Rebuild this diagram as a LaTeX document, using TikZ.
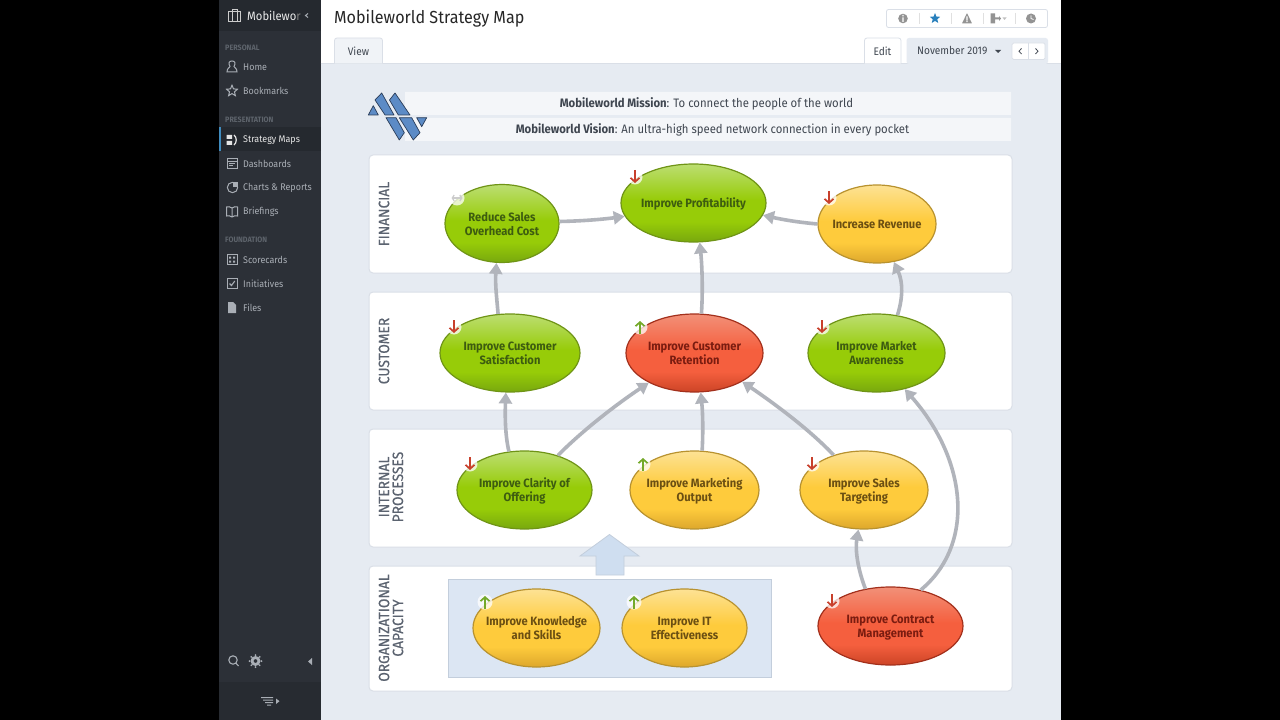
\documentclass[tikz,border=0pt]{standalone}
\usepackage{fontspec}
\setmainfont[FakeStretch=.925]{Fira Sans}
\newfontfamily\labfont[FakeStretch=.925,FakeBold=.3]{Fira Sans}
\usetikzlibrary{shapes.geometric,arrows.meta,shapes.symbols}
\definecolor{pagebg}{HTML}{E6EBF2}
\definecolor{sidebg}{HTML}{2C3037}
\definecolor{sidedark}{HTML}{25292F}
\definecolor{sidetxt}{HTML}{A9AEB5}
\definecolor{sidehead}{HTML}{5E646C}
\definecolor{connc}{HTML}{B1B4BB}
\definecolor{panelline}{HTML}{DADFE7}
\definecolor{labelc}{HTML}{5B6370}
\definecolor{bargrey}{HTML}{F4F6F9}
\definecolor{txtdark}{HTML}{3F4650}
\definecolor{bluebox}{HTML}{DCE6F3}
\definecolor{blueline}{HTML}{C3CEDC}
\definecolor{arrowblue}{HTML}{CFDEF0}
\definecolor{logoblue}{HTML}{5C8BC6}
\definecolor{logoline}{HTML}{2A3C58}
\definecolor{downred}{HTML}{C8402C}
\definecolor{upgreen}{HTML}{74A92A}
\definecolor{gtop}{HTML}{BCDE72}\definecolor{gmid}{HTML}{97CC08}\definecolor{gbot}{HTML}{78A80E}\definecolor{gline}{HTML}{6F9416}\definecolor{gtxt}{HTML}{3D5C10}
\definecolor{otop}{HTML}{FDE294}\definecolor{omid}{HTML}{FECB3C}\definecolor{obot}{HTML}{DDA72C}\definecolor{oline}{HTML}{B8922F}\definecolor{otxt}{HTML}{6B4F12}
\definecolor{rtop}{HTML}{F29078}\definecolor{rmid}{HTML}{F55F3E}\definecolor{rbot}{HTML}{CC4426}\definecolor{rline}{HTML}{A3301C}\definecolor{rtxt}{HTML}{7A1C10}
\pgfdeclareverticalshading{gshade}{100bp}{color(0bp)=(gbot);color(25bp)=(gbot);color(38bp)=(gmid);color(52bp)=(gmid);color(75bp)=(gtop);color(100bp)=(gtop)}
\pgfdeclareverticalshading{oshade}{100bp}{color(0bp)=(obot);color(25bp)=(obot);color(38bp)=(omid);color(52bp)=(omid);color(75bp)=(otop);color(100bp)=(otop)}
\pgfdeclareverticalshading{rshade}{100bp}{color(0bp)=(rbot);color(25bp)=(rbot);color(38bp)=(rmid);color(52bp)=(rmid);color(75bp)=(rtop);color(100bp)=(rtop)}
\tikzset{
 x=1bp,y=-1bp,
 objbase/.style={ellipse,inner ysep=0pt,inner xsep=-35bp,line width=1.2bp,align=center,minimum height=78bp,font=\fontsize{12.1}{14}\selectfont\bfseries,execute at begin node={\rule{0pt}{12.5bp}},execute at end node={\vphantom{Ag}}},
 gobj/.style={objbase,draw=gline,shading=gshade,text=gtxt},
 oobj/.style={objbase,draw=oline,shading=oshade,text=otxt},
 robj/.style={objbase,draw=rline,shading=rshade,text=rtxt},
 conn/.style={draw=connc,line width=3.6bp,-{Triangle[length=11bp,width=13bp]}},
 panelbox/.style={fill=white,draw=panelline,line width=1bp,rounded corners=4bp},
 panellabel/.style={rotate=90,text=labelc,align=center,font=\labfont\fontsize{15}{14}\selectfont,inner sep=0pt},
 sideitem/.style={anchor=west,text=sidetxt,inner sep=0pt,font=\fontsize{9.7}{11}\selectfont},
 sidehd/.style={anchor=west,text=sidehead,inner sep=0pt,font=\fontsize{7.8}{9}\selectfont\bfseries},
 sideicon/.style={draw=sidetxt,line width=1bp},
 bartext/.style={text=txtdark,inner sep=0pt,font=\fontsize{12.3}{14}\selectfont},
 headtext/.style={text=txtdark,inner sep=0pt,font=\fontsize{11}{12}\selectfont},
 badgedisc/.style={circle,fill=white,fill opacity=.75,minimum size=15bp,inner sep=0pt},
 downarr/.style={draw=downred,line width=1.7bp,-{Straight Barb[length=4bp,width=9bp]}},
 uparr/.style={draw=upgreen,line width=1.7bp,-{Straight Barb[length=4bp,width=9bp]}},
 seplin/.style={draw=black!12,line width=.8bp},
}
\newcommand{\badgedown}[3]{\node[badgedisc] (#1) at (#2,#3) {};\draw[downarr] (#2,#3-7) -- (#2,#3+6);}
\newcommand{\badgeup}[3]{\node[badgedisc] (#1) at (#2,#3) {};\draw[uparr] (#2,#3+7) -- (#2,#3-6);}
\newcommand{\twolines}[2]{\rule{0pt}{12.5bp}#1\\#2\vphantom{Ag}}
\begin{document}
\begin{tikzpicture}
\useasboundingbox (0,0) rectangle (1280,720);
\fill[black] (0,0) rectangle (1280,720);
% sidebar
\fill[sidebg] (219,0) rectangle (320.5,720);
\fill[sidedark] (219,0) rectangle (320.5,31);
\fill[sidedark] (219,127) rectangle (320.5,151);
\fill[sidedark!70!sidebg] (219,682) rectangle (320.5,720);
\fill[blue!40!cyan!50!gray] (219,127) rectangle (221,151);
% content
\fill[pagebg] (320.5,0) rectangle (1061,720);
\fill[white] (320.5,0) rectangle (1061,63);
\draw[panelline,line width=.8bp] (320.5,63.5) -- (1061,63.5);
% sidebar head
\draw[draw=white!80!black,line width=1bp] (228.5,12) rectangle (240.5,22) (232,12) -- (232,9.5) -- (237,9.5) -- (237,12) (232,12) -- (232,22) (237,12) -- (237,22);
\node[anchor=west,inner sep=0pt,text=white!92!black,font=\fontsize{12.2}{13}\selectfont] (brand) at (247,16) {Mobilewo{\color{gray}r}};
\draw[sidetxt,line width=1bp] (308,13.5) -- (305.5,15.5) -- (308,17.5);
% sidebar text
\node[sidehd] (hpers) at (225,47.5) {PERSONAL};
\node[sideitem] (ihome) at (243,67.3) {Home};
\node[sideitem] (ibook) at (243,91.3) {Bookmarks};
\node[sidehd] (hpres) at (225,119.5) {PRESENTATION};
\node[sideitem,text=white!90!black] (istrat) at (243,139.8) {Strategy Maps};
\node[sideitem] (idash) at (243,163.6) {Dashboards};
\node[sideitem] (ichart) at (243,187.8) {Charts \& Reports};
\node[sideitem] (ibrief) at (243,211.8) {Briefings};
\node[sidehd] (hfound) at (225,239.5) {FOUNDATION};
\node[sideitem] (iscore) at (243,259.6) {Scorecards};
\node[sideitem] (iinit) at (243,283.6) {Initiatives};
\node[sideitem] (ifile) at (243,307.6) {Files};
% sidebar icons
\draw[sideicon] (227,72) .. controls (227,68) and (229.5,68) .. (230,66.5) .. controls (228,63) and (229,61) .. (232,61) .. controls (235,61) and (236,63) .. (234,66.5) .. controls (234.5,68) and (237,68) .. (237,72) -- cycle;
\node[star,star points=5,star point ratio=2.2,sideicon,inner sep=0pt,minimum size=11.5bp] (sstar) at (232,91) {};
\fill[white!90!black] (226.5,135) rectangle (232,139) (226.5,141) rectangle (232,145);
\draw[white!90!black,line width=1.2bp] (234,135) .. controls (237,137) and (237,143) .. (234,145);
\draw[sideicon] (227,158.5) rectangle (237,168.5) (227,161.5) -- (237,161.5) (229,164) -- (235,164) (229,166) -- (233,166);
\draw[sideicon] (232.5,187.5) circle[radius=5.2];
\fill[sidetxt] (232.5,187.5) -- (232.5,182) -- (238,182) -- (238,187.5) -- cycle;
\draw[sideicon] (232,208) .. controls (230,206.5) and (228,206.5) .. (226.5,207) -- (226.5,216) .. controls (228,215.5) and (230,215.5) .. (232,217) .. controls (234,215.5) and (236,215.5) .. (237.5,216) -- (237.5,207) .. controls (236,206.5) and (234,206.5) .. (232,208) -- (232,217);
\draw[sideicon] (227,254.5) rectangle (237,264.5);
\fill[sidetxt] (229,256.5) rectangle (231,258.5) (233,256.5) rectangle (235,258.5) (229,260.5) rectangle (231,262.5) (233,260.5) rectangle (235,262.5);
\draw[sideicon] (227,278.5) rectangle (237,288.5);
\draw[sidetxt,line width=1.1bp] (229.5,283.5) -- (231.5,285.5) -- (234.8,281);
\fill[sidetxt] (228,302) -- (233,302) -- (236,305) -- (236,313) -- (228,313) -- cycle;
% sidebar bottom
\draw[sidetxt,line width=1.1bp] (233,660) circle[radius=4.2] (236,663.2) -- (238.5,666);
\fill[sidetxt,even odd rule] (255.5,661) circle[radius=5] (255.5,661) circle[radius=2];
\foreach \a in {0,45,...,315}{\fill[sidetxt] (255.5,661) ++(\a:6) circle[radius=1];}
\fill[sidetxt] (312,658) -- (312,665) -- (308,661.5) -- cycle;
\fill[sidetxt] (261,697) rectangle (273,698) (263,699.5) rectangle (273,700.5) (265,702) rectangle (273,703) (267,704.5) rectangle (271,705.5);
\fill[sidetxt] (276,698.5) -- (276,704) -- (279.5,701.2) -- cycle;
% header
\node[anchor=west,inner sep=0pt,text=black!85,font=\fontsize{17.5}{20}\selectfont] (title) at (334,18.5) {Mobileworld Strategy Map};
\draw[panelline,fill=white,rounded corners=2bp,line width=.8bp] (886.5,9.5) rectangle (1047.5,27.5);
\fill[gray!85] (903,18.5) circle[radius=4.8];
\fill[white] (902.3,17.5) rectangle (903.7,22) (902.3,15) rectangle (903.7,16.3);
\node[star,star points=5,star point ratio=2.3,fill=cyan!70!blue!85!black,inner sep=0pt,minimum size=11bp] (hstar) at (935,18.5) {};
\fill[gray!85,rounded corners=.5bp] (967,13) -- (972,23.5) -- (962,23.5) -- cycle;
\fill[white] (966.4,16.5) rectangle (967.6,20.5) (966.4,21) rectangle (967.6,22.2);
\fill[gray!85] (990.5,13.5) rectangle (995,23.5) (995,17.5) -- (999,17.5) -- (999,16) -- (1001,18.5) -- (999,21) -- (999,19.5) -- (995,19.5) -- cycle;
\fill[gray!50] (1002.5,17.5) -- (1006.5,17.5) -- (1004.5,20) -- cycle;
\fill[gray!85] (1031,18.5) circle[radius=5];
\draw[white,line width=.8bp] (1031,15.5) -- (1031,18.5) -- (1033.5,19.5);
\draw[seplin] (919,13) -- (919,24) (951,13) -- (951,24) (983,13) -- (983,24) (1015,13) -- (1015,24);
% tabs
\draw[panelline,fill=pagebg!60!white,line width=.8bp,rounded corners=2.5bp] (334.5,63.5) -- (334.5,38) -- (382.5,38) -- (382.5,63.5);
\node[headtext] (tview) at (358.5,51) {View};
\draw[panelline,fill=white,line width=.8bp,rounded corners=2.5bp] (864.5,63.5) -- (864.5,38) -- (901,38) -- (901,63.5);
\node[headtext] (tedit) at (882.5,51) {Edit};
\fill[pagebg,rounded corners=2.5bp] (906.5,64) -- (906.5,38) -- (1048,38) -- (1048,64) -- cycle;
\node[headtext,anchor=west] (tnov) at (917,51) {November 2019};
\fill[txtdark] (995,50) -- (1001,50) -- (998,53) -- cycle;
\draw[panelline,fill=white,rounded corners=1.5bp,line width=.7bp] (1012,43) rectangle (1045,59.5);
\draw[panelline,line width=.7bp] (1028.5,43) -- (1028.5,59.5);
\draw[txtdark,line width=.8bp] (1021.5,48.5) -- (1019,51.2) -- (1021.5,54) (1035.5,48.5) -- (1038,51.2) -- (1035.5,54);
% mission bars
\fill[bargrey] (405,92) rectangle (1011,115) (405,118) rectangle (1011,141);
\node[bartext] (mission) at (706.5,104) {\textbf{Mobileworld Mission}: To connect the people of the world};
\node[bartext] (vision) at (712.5,130) {\textbf{Mobileworld Vision}: An ultra-high speed network connection in every pocket};
% logo
\begin{scope}[fill=logoblue,draw=logoline,line width=.7bp,line join=round]
\filldraw (368.3,115) -- (373.3,105.7) -- (378.3,115) -- cycle;
\filldraw (381.7,93) -- (394,115) -- (385,115) -- (375,100) -- cycle;
\filldraw (395,93) -- (410,115) -- (398.3,115) -- (389.5,100) -- cycle;
\filldraw (386,117.7) -- (396,117.7) -- (404.3,132.7) -- (399.3,140) -- cycle;
\filldraw (399.3,117.7) -- (411.7,117.7) -- (420,132.7) -- (413.3,140) -- cycle;
\filldraw (416.7,117.7) -- (426.7,117.7) -- (421.7,126.7) -- cycle;
\end{scope}
% panels
\draw[panelbox] (369,155) rectangle (1012,273);
\draw[panelbox] (369,292) rectangle (1012,410);
\draw[panelbox] (369,429) rectangle (1012,547);
\draw[panelbox] (369,566) rectangle (1012,691);
\node[panellabel] (lfin) at (384,214) {FINANCIAL};
\node[panellabel] (lcus) at (384,351) {CUSTOMER};
\node[panellabel] (lint) at (391,487) {INTERNAL\\PROCESSES};
\node[panellabel] (lorg) at (391,628) {ORGANIZATIONAL\\CAPACITY};
% group box and block arrow
\draw[fill=bluebox,draw=blueline,line width=1bp] (448,579.5) rectangle (771.5,677);
\draw[fill=arrowblue,draw=blueline,line width=.8bp] (609.5,534.5) -- (639,556) -- (624,556) -- (624,575) -- (596,575) -- (596,556) -- (580,556) -- cycle;
% objectives
\node[gobj,minimum width=114bp] (rsc) at (502,223.5) {\twolines{Reduce Sales}{Overhead Cost}};
\node[gobj,minimum width=145bp] (prof) at (693.5,203) {Improve Profitability};
\node[oobj,minimum width=118bp] (rev) at (877,224) {Increase Revenue};
\node[gobj,minimum width=140bp] (sat) at (510,353) {\twolines{Improve Customer}{Satisfaction}};
\node[robj,minimum width=137bp] (ret) at (694.5,353) {\twolines{Improve Customer}{Retention}};
\node[gobj,minimum width=137bp] (mkt) at (876.5,353) {\twolines{Improve Market}{Awareness}};
\node[gobj,minimum width=135bp] (cla) at (524.5,490) {\twolines{Improve Clarity of}{Offering}};
\node[oobj,minimum width=129bp] (mko) at (694.5,490) {\twolines{Improve Marketing}{Output}};
\node[oobj,minimum width=128bp] (sal) at (864,490) {\twolines{Improve Sales}{Targeting}};
\node[oobj,minimum width=127bp] (kno) at (536.5,628) {\twolines{Improve Knowledge}{and Skills}};
\node[oobj,minimum width=125bp] (itf) at (684.5,628) {\twolines{Improve IT}{Effectiveness}};
\node[robj,minimum width=145bp] (con) at (890.5,626) {\twolines{Improve Contract}{Management}};
% connectors
\draw[conn] (rsc.2) .. controls (585,221) and (605,219) .. (prof.191);
\draw[conn] (rev.180) .. controls (795,222) and (780,219) .. (prof.-10);
\draw[conn] (sat.107) .. controls (497,300) and (495,285) .. (rsc.-98);
\draw[conn] (ret.80.5) .. controls (703,290) and (702,265) .. (prof.-81);
\draw[conn] (mkt.61) .. controls (903,298) and (903,282) .. (rev.-66);
\draw[conn] (cla.112) .. controls (505,435) and (505,415) .. (sat.-96);
\draw[conn] (cla.46) .. controls (585,428) and (620,402) .. (ret.213.7);
\draw[conn] (mko.79) .. controls (703,435) and (703,415) .. (ret.-81);
\draw[conn] (sal.131) .. controls (810,430) and (775,404) .. (ret.-31.5);
\draw[conn] (con.124) .. controls (858,570) and (855,550) .. (sal.-98.5);
\draw[conn] (con.50.7) .. controls (975,545) and (968,461) .. (mkt.-52);
% status badges
\node[badgedisc] (b1) at (457,198) {};
\draw[white!80!black,line width=1.2bp,{Straight Barb[length=2bp,width=6bp]}-{Straight Barb[length=2bp,width=6bp]}] (451.5,198) -- (462.5,198);
\badgedown{b2}{635}{177}
\badgedown{b3}{829}{198}
\badgedown{b4}{454}{327}
\badgeup{b5}{640}{327}
\badgedown{b6}{822}{327}
\badgedown{b7}{470}{464}
\badgeup{b8}{643}{464}
\badgedown{b9}{812}{464}
\badgeup{b10}{485}{602}
\badgeup{b11}{634}{602}
\badgedown{b12}{832}{601}
\end{tikzpicture}
\end{document}
